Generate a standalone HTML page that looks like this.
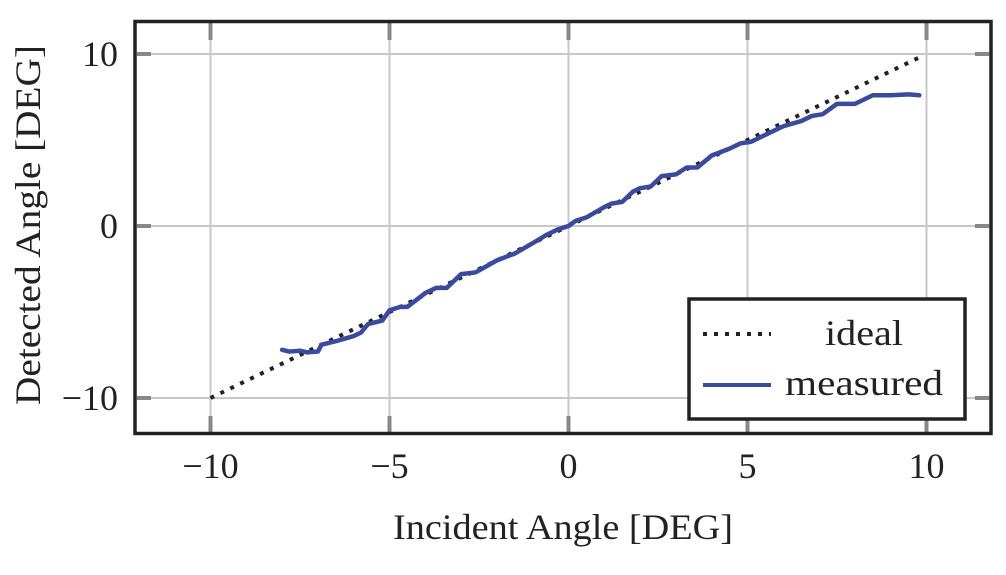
<!DOCTYPE html>
<html><head><meta charset="utf-8"><style>
body{margin:0;background:#fff;}
svg text{font-family:"Liberation Serif",serif;fill:#222;}
</style></head><body>
<svg width="1006" height="570" viewBox="0 0 1006 570">
<g id="grid"></g>
<g id="ticks"></g>
<g id="series"></g>
<rect x="135" y="21.5" width="856" height="412" fill="none" stroke="#222" stroke-width="3.5"/>
<g id="labels"></g>
<text x="563" y="539" font-size="36" text-anchor="middle" textLength="340" lengthAdjust="spacingAndGlyphs">Incident Angle [DEG]</text>
<text transform="translate(40,225) rotate(-90)" font-size="36" text-anchor="middle" textLength="360" lengthAdjust="spacingAndGlyphs">Detected Angle [DEG]</text>
<g>
<rect x="689" y="299" width="276" height="120" fill="#fff" stroke="#222" stroke-width="3.5"/>
<g>
<line x1="703" y1="334" x2="771" y2="334" stroke="#222" stroke-width="4" stroke-dasharray="4,7"/>
<text x="864" y="345" font-size="36" text-anchor="middle" textLength="78" lengthAdjust="spacingAndGlyphs">ideal</text></g>
<g>
<line x1="703" y1="385" x2="771" y2="385" stroke="#3a4b9e" stroke-width="4"/>
<text x="864" y="395" font-size="36" text-anchor="middle" textLength="158" lengthAdjust="spacingAndGlyphs">measured</text></g>
</g>
</svg>
<script>
const xTicks=[-10,-5,0,5,10];
const yTicks=[-10,0,10];
const idealX=[-10,9.8];
const measX=[-8.0,-7.8,-7.5,-7.3,-7.0,-6.9,-6.5,-6.0,-5.8,-5.6,-5.2,-5.0,-4.7,-4.5,-4.0,-3.7,-3.4,-3.0,-2.6,-2.0,-1.5,-1.0,-0.6,-0.3,0,0.2,0.5,1.0,1.2,1.5,1.8,2.0,2.3,2.6,3.0,3.3,3.6,4.0,4.5,4.8,5.1,5.5,6.0,6.5,6.8,7.1,7.5,8.0,8.5,9.0,9.5,9.8];
const measY=[-7.2,-7.3,-7.25,-7.35,-7.3,-6.9,-6.7,-6.4,-6.2,-5.7,-5.5,-4.9,-4.7,-4.7,-3.9,-3.6,-3.6,-2.8,-2.7,-2.0,-1.6,-1.0,-0.5,-0.2,0,0.3,0.5,1.1,1.3,1.4,2.0,2.2,2.3,2.9,3.0,3.4,3.4,4.1,4.5,4.8,4.9,5.3,5.8,6.1,6.4,6.5,7.1,7.1,7.6,7.6,7.65,7.6];
const X=v=>568.5+35.8*v, Y=v=>226-17.2*v;
const NS='http://www.w3.org/2000/svg';
function mk(p,t,a){const e=document.createElementNS(NS,t);for(const k in a)e.setAttribute(k,a[k]);p.appendChild(e);return e;}
const g=document.getElementById('grid'),tk=document.getElementById('ticks'),lb=document.getElementById('labels'),s=document.getElementById('series');
xTicks.forEach(v=>{
 let l=mk(g,'line',{x1:X(v),x2:X(v),y1:21,y2:434,stroke:'#c8c8c8','stroke-width':2});
 
 
 [[23,40],[416,433]].forEach(([a,b])=>{let t=mk(tk,'line',{x1:X(v),x2:X(v),y1:a,y2:b,stroke:'#888','stroke-width':4});
 
 });
 let tx=mk(lb,'text',{x:X(v),y:478,'font-size':36,'text-anchor':'middle'});tx.textContent=(v<0?'\u2212'+(-v):v);
 
 
});
yTicks.forEach(v=>{
 let l=mk(g,'line',{x1:135,x2:991,y1:Y(v),y2:Y(v),stroke:'#c8c8c8','stroke-width':2});
 
 
 [[137,151],[975,989]].forEach(([a,b])=>{let t=mk(tk,'line',{x1:a,x2:b,y1:Y(v),y2:Y(v),stroke:'#888','stroke-width':4});
 
 });
 let tx=mk(lb,'text',{x:118,y:Y(v)+12,'font-size':36,'text-anchor':'end'});tx.textContent=(v<0?'\u2212'+(-v):v);
 
 
});
let id=mk(s,'line',{x1:X(idealX[0]),y1:Y(idealX[0]),x2:X(idealX[1]),y2:Y(idealX[1]),stroke:'#222','stroke-width':4,'stroke-dasharray':'4,7'});


let m=mk(s,'polyline',{points:measX.map((x,i)=>X(x)+','+Y(measY[i])).join(' '),fill:'none',stroke:'#3a4b9e','stroke-width':4.5,'stroke-linejoin':'round','stroke-linecap':'round'});


</script>
</body></html>
